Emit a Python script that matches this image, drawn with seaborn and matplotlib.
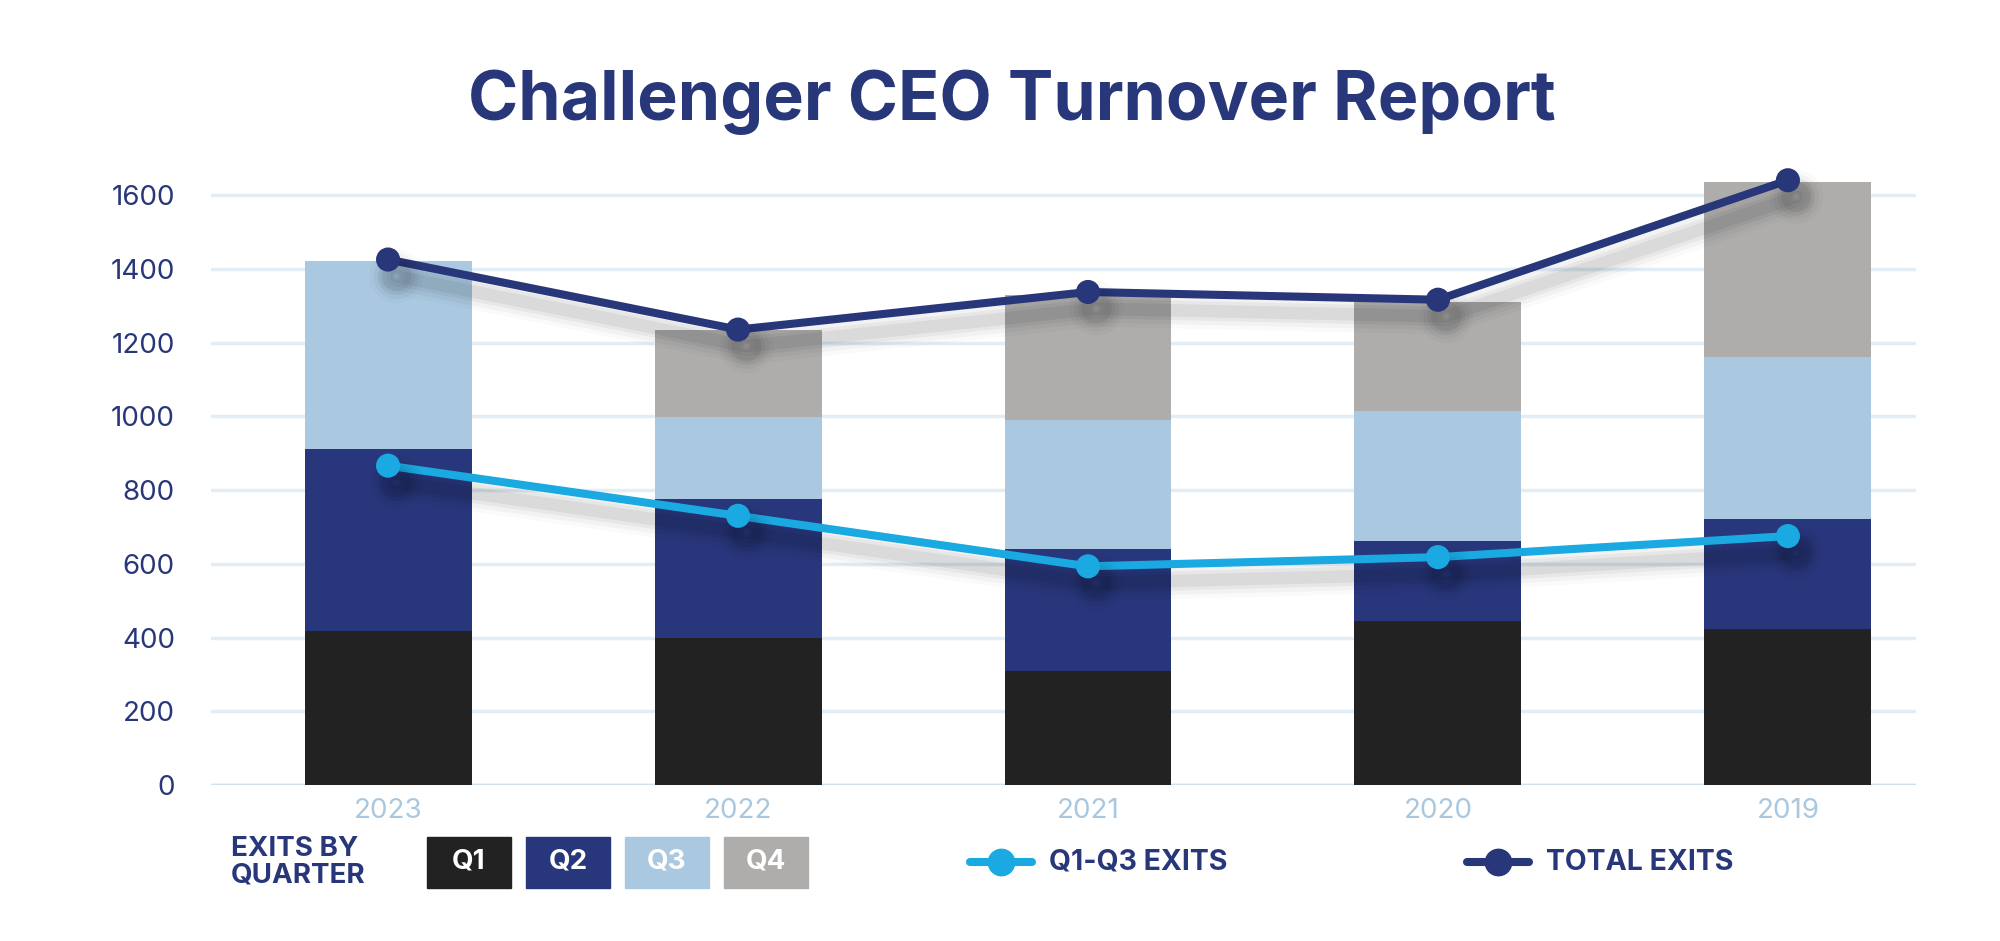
import matplotlib
matplotlib.use("Agg")
import matplotlib.pyplot as plt
import matplotlib.patheffects as pe
from matplotlib.patches import Rectangle
from matplotlib.lines import Line2D
import matplotlib.font_manager as fm
import seaborn as sns
import pandas as pd

# data
years = ["2023", "2022", "2021", "2020", "2019"]
q1 = [418, 399, 308, 445, 422]
q2 = [494, 377, 332, 218, 299]
q3 = [510, 221, 349, 351, 439]
q4 = [0, 236, 340, 297, 474]
q1_q3_exits = [866, 730, 593, 618, 675]
total_exits = [1425, 1235, 1337, 1316, 1640]
quarter_labels = ["Q1", "Q2", "Q3", "Q4"]
yticks = [0, 200, 400, 600, 800, 1000, 1200, 1400, 1600]

NAVY = "#283779"
CYAN = "#1aa9e0"
Q_COLORS = ["#222222", "#28377b", "#aac8e0", "#aeadac"]
GRID = "#e2edf6"
YEAR_COL = "#a9c8e0"

sns.set_theme(style="white")
plt.rcParams["font.family"] = ["Inter", "DejaVu Sans"]

names = {f.name for f in fm.fontManager.ttflist}
narrow = "Liberation Sans Narrow" if "Liberation Sans Narrow" in names else "Inter"

df = pd.DataFrame({"year": years, "Q1": q1, "Q2": q2, "Q3": q3, "Q4": q4})
df["c1"] = df["Q1"]
df["c2"] = df["c1"] + df["Q2"]
df["c3"] = df["c2"] + df["Q3"]
df["c4"] = df["c3"] + df["Q4"]

W, H = 2000, 941
YMAX = 1700
px_per_unit = (785 - 195) / 1600
top_px = 785 - YMAX * px_per_unit
fig = plt.figure(figsize=(20, 9.41), dpi=100)
ax = fig.add_axes([211 / W, 1 - 785 / H, (1916 - 211) / W, (785 - top_px) / H])

# stacked bars: draw cumulative tops from tallest to shortest
for col, c in zip(["c4", "c3", "c2", "c1"], Q_COLORS[::-1]):
    sns.barplot(data=df, x="year", y=col, order=years, color=c, saturation=1,
                width=0.477, linewidth=0, errorbar=None, ax=ax, zorder=2)

lines_df = pd.DataFrame({"year": years, "q13": q1_q3_exits, "total": total_exits})


def shadow():
    effects = []
    for lw, a in [(26, 0.02), (20, 0.03), (14, 0.045), (9, 0.055)]:
        effects.append(pe.SimpleLineShadow(offset=(6, -12), shadow_color="#000000",
                                           alpha=a, linewidth=lw))
    effects.append(pe.Normal())
    return effects


for col, c in [("q13", CYAN), ("total", NAVY)]:
    n_before = len(ax.lines)
    sns.pointplot(data=lines_df, x="year", y=col, order=years, color=c,
                  markers="o", markersize=13, linewidth=5.8, errorbar=None, ax=ax)
    for ln in ax.lines[n_before:]:
        ln.set_zorder(4)
        ln.set_clip_on(False)
        ln.set_path_effects(shadow())

ax.set_xlim(-0.506, 4.366)
ax.set_ylim(0, YMAX)
ax.set_yticks(yticks)
ax.set_yticklabels([str(v) for v in yticks])
ax.set_xlabel("")
ax.set_ylabel("")
for s in ax.spines.values():
    s.set_visible(False)
ax.set_axisbelow(True)
ax.grid(axis="y", color=GRID, linewidth=2.5, zorder=0)
ax.grid(axis="x", visible=False)
ax.axhline(0, color="#cfe0ee", linewidth=2.5, zorder=1)
ax.tick_params(axis="y", length=0, pad=26, labelsize=20, labelcolor=NAVY)
ax.tick_params(axis="x", length=0, pad=9, labelsize=20, labelcolor=YEAR_COL)

fig.text(1012 / W, 1 - 102 / H, "Challenger CEO Turnover Report", ha="center",
         va="center", fontsize=49, fontweight="bold", color=NAVY)

# legend
fig.text(231 / W, 1 - 862 / H, "EXITS BY\nQUARTER", ha="left", va="center",
         fontsize=20, fontweight="bold", color=NAVY, family=narrow, linespacing=1.0)
box_x = [427, 526, 625, 724]
for bx, lab, c in zip(box_x, quarter_labels, Q_COLORS):
    fig.patches.append(Rectangle((bx / W, 1 - 888 / H), 84 / W, 51 / H,
                                 transform=fig.transFigure, color=c))
    fig.text((bx + 42) / W, 1 - 862 / H, lab, ha="center", va="center",
             fontsize=20, fontweight="bold", color="white")

for x0, lab, c in [(970, "Q1-Q3 EXITS", CYAN), (1467, "TOTAL EXITS", NAVY)]:
    fig.lines.append(Line2D([x0 / W, (x0 + 62) / W], [1 - 862 / H, 1 - 862 / H],
                            transform=fig.transFigure, color=c, linewidth=5.8))
    fig.lines.append(Line2D([(x0 + 31) / W], [1 - 862 / H], transform=fig.transFigure,
                            color=c, marker="o", markersize=19, linewidth=0))
    fig.text((x0 + 79) / W, 1 - 862 / H, lab, ha="left", va="center",
             fontsize=20.5, fontweight="bold", color=NAVY, family=narrow)

fig.savefig("out.png", dpi=100, facecolor="white")
